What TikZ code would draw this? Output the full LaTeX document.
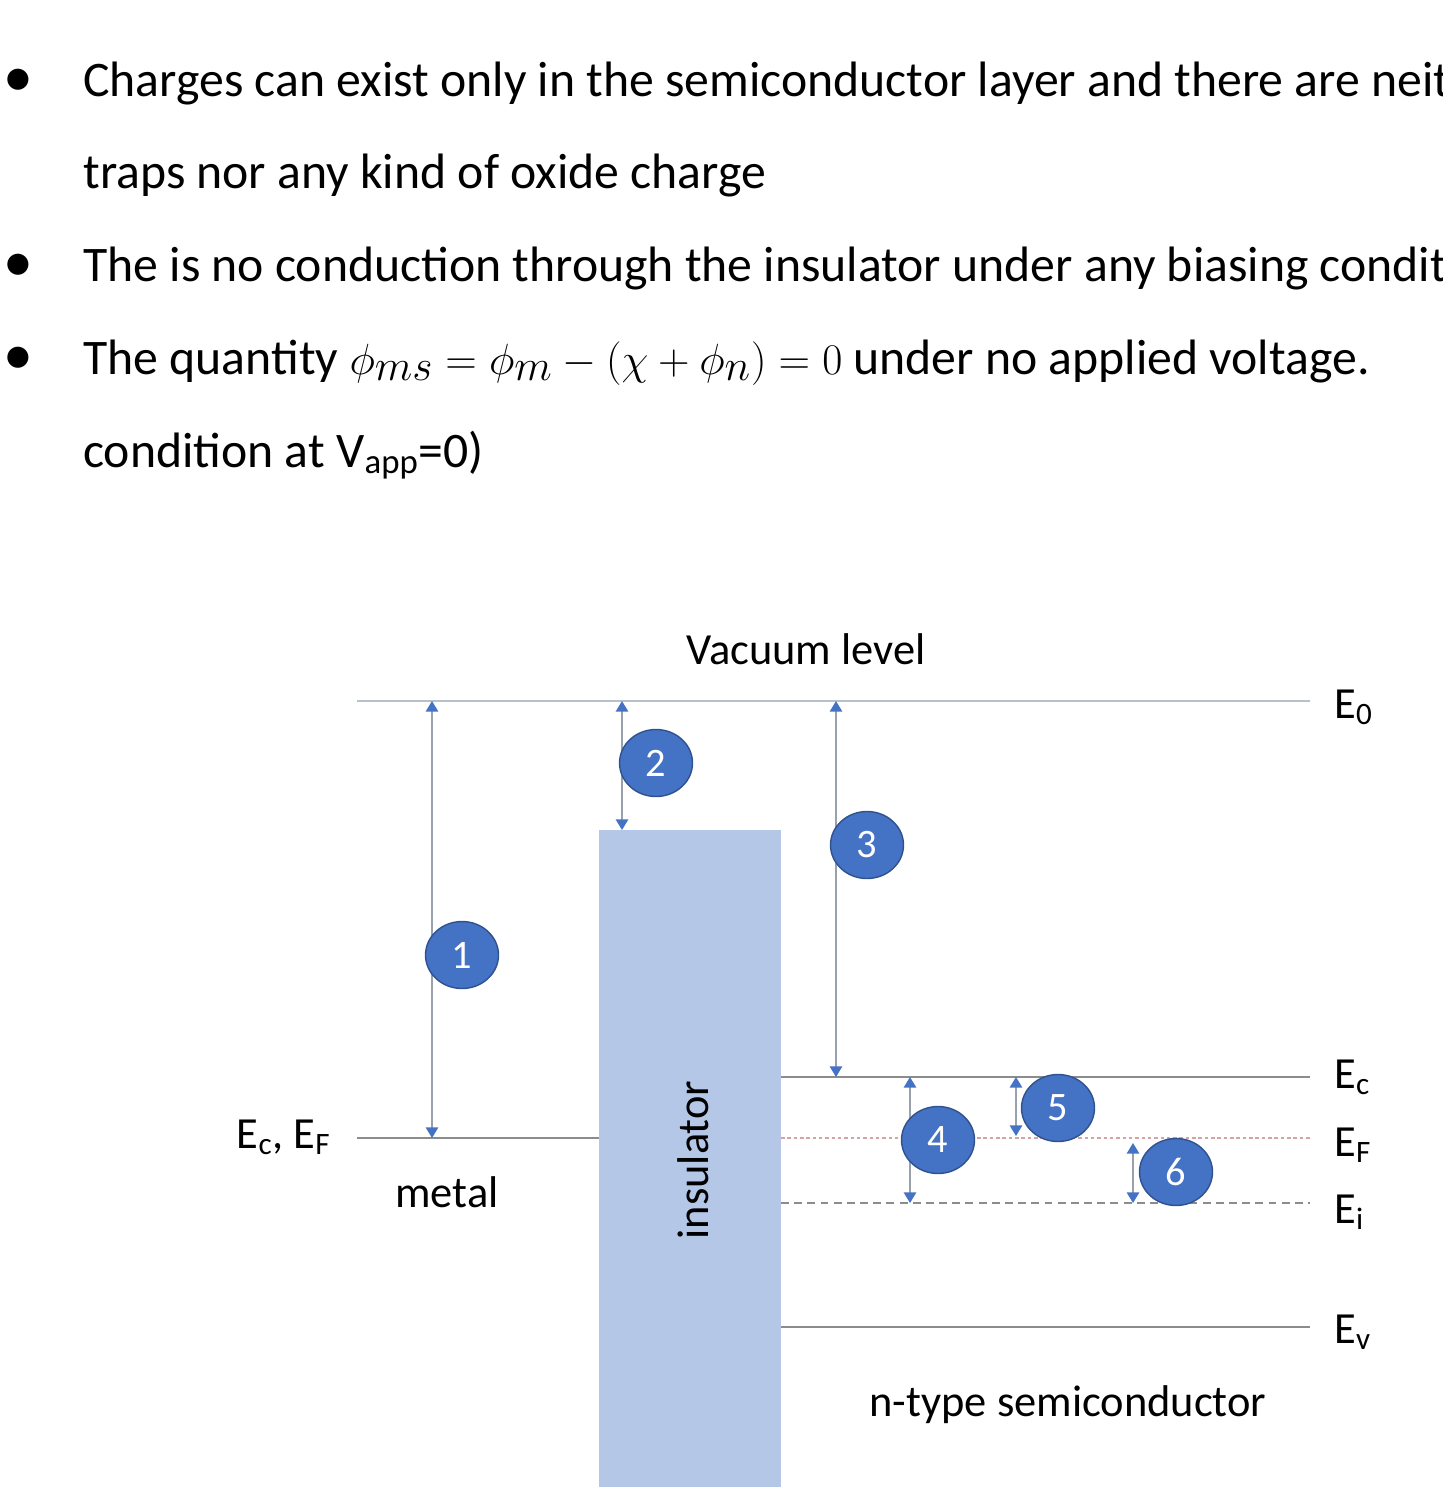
\documentclass[tikz,border=0pt]{standalone}
\usepackage{fontspec}
\setmainfont{Carlito}
\usepackage{tikz}
\usetikzlibrary{arrows.meta,shapes.geometric}
\definecolor{badgeblue}{HTML}{4472C4}
\definecolor{badgeedge}{HTML}{2F528F}
\definecolor{insfill}{HTML}{B4C7E7}
\definecolor{levelgray}{HTML}{8C8C8C}
\definecolor{vacgray}{HTML}{B7C1CE}
\definecolor{arrowgray}{HTML}{98A2AE}
\definecolor{fermipink}{HTML}{D6A3A3}
\newcommand{\bigmath}[1]{{\fontsize{33}{34}\selectfont$#1$}}
\tikzset{
  bodytext/.style={anchor=base west,inner sep=0pt,font=\fontsize{28.3}{34}\selectfont},
  bullettext/.style={anchor=base,inner sep=0pt,font=\fontsize{34}{34}\selectfont},
  bandtext/.style={inner sep=0pt,font=\fontsize{25.3}{30}\selectfont},
  bandline/.style={levelgray,line width=0.9pt},
  bandarrow/.style={arrowgray,line width=0.9pt,
    {Triangle[width=7pt,length=6pt,color=badgeblue]}-{Triangle[width=7pt,length=6pt,color=badgeblue]}},
  numbadge/.style={ellipse,fill=badgeblue,draw=badgeedge,line width=0.8pt,
    minimum width=1.46cm,minimum height=1.34cm,inner sep=0pt,text=white,
    font=\fontsize{23}{26}\selectfont}
}

\begin{document}
\begin{tikzpicture}[x=0.02cm,y=-0.02cm]
  \useasboundingbox (0,0) rectangle (1443,1487);
  % bullet list
  \node[bullettext] (b1) at (18,96) {\textbullet};
  \node[bodytext] (t1) at (83,96) {Charges can exist only in the semiconductor layer and there are neither};
  \node[bodytext] (t2) at (83,188) {traps nor any kind of oxide charge};
  \node[bullettext] (b2) at (18,281) {\textbullet};
  \node[bodytext] (t3) at (83,281) {The is no conduction through the insulator under any biasing condition};
  \node[bullettext] (b3) at (18,374) {\textbullet};
  \node[bodytext] (t4) at (83,374) {The quantity \bigmath{\phi_{ms}=\phi_m-(\chi+\phi_n)=0} under no applied voltage.};
  \node[bodytext] (t5) at (83,467) {condition at V\textsubscript{app}=0)};

  % band diagram
  \fill[insfill] (599,830) rectangle (781,1487);
  \node[bandtext,rotate=90] (ins) at (693,1160) {insulator};
  \draw[vacgray,line width=0.9pt] (357,701) -- (1310,701);
  \draw[bandline] (357,1138) -- (599,1138);
  \draw[bandline] (781,1077) -- (1310,1077);
  \draw[fermipink,line width=0.8pt,dash pattern=on 2pt off 1.6pt] (781,1138) -- (1310,1138);
  \draw[levelgray,line width=0.8pt,dash pattern=on 4.5pt off 3pt] (781,1203) -- (1310,1203);
  \draw[bandline] (781,1327) -- (1310,1327);

  \node[bandtext,anchor=base] (vac) at (806,664) {Vacuum level};
  \node[bandtext,anchor=base west] (e0) at (1334,718) {E\textsubscript{0}};
  \node[bandtext,anchor=base west] (ec) at (1334,1088) {E\textsubscript{c}};
  \node[bandtext,anchor=base west] (ef) at (1334,1156) {E\textsubscript{F}};
  \node[bandtext,anchor=base west] (ei) at (1334,1223) {E\textsubscript{i}};
  \node[bandtext,anchor=base west] (ev) at (1334,1343) {E\textsubscript{v}};
  \node[bandtext,anchor=base east] (ecef) at (331,1148) {E\textsubscript{c}, E\textsubscript{F}};
  \node[bandtext,anchor=base] (metal) at (447,1207) {metal};
  \node[bandtext,anchor=base] (semi) at (1068,1416) {n-type semiconductor};

  % arrow end points
  \coordinate (a1t) at (432,701);  \coordinate (a1b) at (432,1138);
  \coordinate (a2t) at (622,701);  \coordinate (a2b) at (622,830);
  \coordinate (a3t) at (836,701);  \coordinate (a3b) at (836,1077);
  \coordinate (a4t) at (910,1077); \coordinate (a4b) at (910,1203);
  \coordinate (a5t) at (1016,1077); \coordinate (a5b) at (1016,1136);
  \coordinate (a6t) at (1133,1143); \coordinate (a6b) at (1133,1203);
  \draw[bandarrow] (a1t) -- (a1b);
  \draw[bandarrow] (a2t) -- (a2b);
  \draw[bandarrow] (a3t) -- (a3b);
  \draw[bandarrow] (a4t) -- (a4b);
  \draw[bandarrow] (a5t) -- (a5b);
  \draw[bandarrow] (a6t) -- (a6b);

  \node[numbadge] (n1) at (462,955) {1};
  \node[numbadge] (n2) at (656,763) {2};
  \node[numbadge] (n3) at (867,845) {3};
  \node[numbadge] (n4) at (938,1140) {4};
  \node[numbadge] (n5) at (1058,1108) {5};
  \node[numbadge] (n6) at (1176,1172) {6};
\end{tikzpicture}
\end{document}
